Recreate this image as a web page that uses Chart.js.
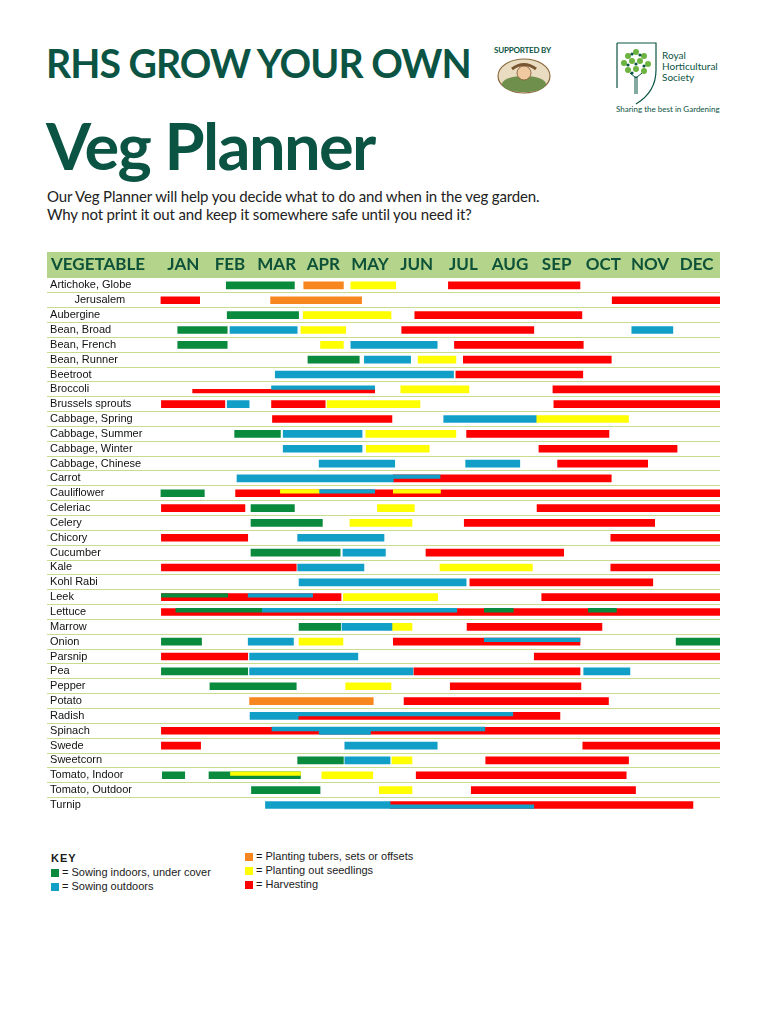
<!DOCTYPE html>
<html lang="en">
<head>
<meta charset="utf-8">
<title>RHS Grow Your Own - Veg Planner</title>
<script src="https://cdn.jsdelivr.net/npm/chart.js@4.4.1/dist/chart.umd.min.js"></script>
<style>
  html, body { margin: 0; padding: 0; background: #fff; }
  body { width: 768px; height: 1024px; position: relative; overflow: hidden; font-family: 'Lato', sans-serif; }
  .brand { position: absolute; left: 46px; top: 42px; font: 700 41px/1 'Lato', sans-serif; letter-spacing: -1px; color: #0b5443; white-space: nowrap; transform: scaleX(0.955); transform-origin: left top; }
  .title { position: absolute; left: 46px; top: 113px; font: 700 65px/1 'Lato', sans-serif; letter-spacing: -1.6px; color: #0b5443; white-space: nowrap; }
  .intro { position: absolute; left: 47px; top: 187px; font: 400 15px/18px 'Lato', sans-serif; letter-spacing: -0.15px; color: #222; white-space: nowrap; }
  .supported { position: absolute; left: 494px; top: 46px; font: 700 8px/1 'Lato', sans-serif; color: #0b5443; letter-spacing: -0.2px; }
  .sponsor { position: absolute; left: 496px; top: 58px; }
  .rhs-logo { position: absolute; left: 614px; top: 42px; }
  .rhs-name { position: absolute; left: 662px; top: 50px; font: 400 10px/11px 'Lato', sans-serif; color: #0b5443; }
  .rhs-tag { position: absolute; left: 616px; top: 105px; font: 400 8px/1 'Lato', sans-serif; color: #0b5443; white-space: nowrap; }
  #chart-wrap { position: absolute; left: 47px; top: 252px; width: 673px; height: 570px; }
  .key { position: absolute; font: 400 11px/14px 'Liberation Sans', sans-serif; color: #1a1a1a; white-space: nowrap; }
  .key-title { font-weight: 700; letter-spacing: 1px; }
  .swatch { display: inline-block; width: 8px; height: 8px; margin-right: 3px; vertical-align: -0.5px; }
</style>
</head>
<body>

<div class="brand">RHS GROW YOUR OWN</div>
<div class="title">Veg Planner</div>
<div class="intro">Our Veg Planner will help you decide what to do and when in the veg garden.<br>Why not print it out and keep it somewhere safe until you need it?</div>

<div class="supported">SUPPORTED BY</div>
<svg class="sponsor" width="56" height="36" viewBox="0 0 56 36">
  <ellipse cx="28" cy="18" rx="26" ry="17" fill="#e9dcc0" stroke="#8b6a3e" stroke-width="1.2"/>
  <ellipse cx="28" cy="26" rx="22" ry="8" fill="#6f8f4c"/>
  <circle cx="28" cy="15" r="7" fill="#f1c9a0" stroke="#7a5532" stroke-width="0.8"/>
  <path d="M16 11 Q28 2 40 11" fill="none" stroke="#7a5532" stroke-width="3"/>
</svg>

<svg class="rhs-logo" width="46" height="64" viewBox="0 0 46 64">
  <path d="M3 1 V46 M3 1 H42 V28 Q42 50 22 62" fill="none" stroke="#0b5443" stroke-width="1.2"/>
  <g fill="#6cb33f">
    <circle cx="14" cy="14" r="3"/><circle cx="22" cy="10" r="3"/><circle cx="30" cy="14" r="3"/>
    <circle cx="10" cy="21" r="3"/><circle cx="18" cy="19" r="3"/><circle cx="26" cy="19" r="3"/><circle cx="34" cy="22" r="3"/>
    <circle cx="14" cy="28" r="3"/><circle cx="22" cy="27" r="3"/><circle cx="30" cy="29" r="3"/>
  </g>
  <g fill="#0b5443">
    <circle cx="18" cy="12" r="1.6"/><circle cx="26" cy="13" r="1.6"/><circle cx="14" cy="23" r="1.6"/>
    <circle cx="30" cy="24" r="1.6"/><circle cx="22" cy="22" r="1.6"/><circle cx="18" cy="31" r="1.6"/>
  </g>
  <path d="M21 34 V52 M23 34 V52 M22 36 L16 31 M22 36 L28 31" stroke="#0b5443" stroke-width="1" fill="none"/>
</svg>
<div class="rhs-name">Royal<br>Horticultural<br>Society</div>
<div class="rhs-tag">Sharing the best in Gardening</div>

<div id="chart-wrap"><canvas id="vegChart"></canvas></div>

<div class="key" style="left:51px; top:851px;">
  <div class="key-title">KEY</div>
  <div><span class="swatch" style="background:#0a8a3c"></span>= Sowing indoors, under cover</div>
  <div><span class="swatch" style="background:#119fc8"></span>= Sowing outdoors</div>
</div>
<div class="key" style="left:245px; top:849px;">
  <div><span class="swatch" style="background:#f7861e"></span>= Planting tubers, sets or offsets</div>
  <div><span class="swatch" style="background:#ffff00"></span>= Planting out seedlings</div>
  <div><span class="swatch" style="background:#ff0000"></span>= Harvesting</div>
</div>

<script>
// --- Chart data ---
const months = ['JAN', 'FEB', 'MAR', 'APR', 'MAY', 'JUN', 'JUL', 'AUG', 'SEP', 'OCT', 'NOV', 'DEC'];

const vegetables = [
  'Artichoke, Globe', 'Jerusalem', 'Aubergine', 'Bean, Broad', 'Bean, French', 'Bean, Runner',
  'Beetroot', 'Broccoli', 'Brussels sprouts', 'Cabbage, Spring', 'Cabbage, Summer', 'Cabbage, Winter',
  'Cabbage, Chinese', 'Carrot', 'Cauliflower', 'Celeriac', 'Celery', 'Chicory',
  'Cucumber', 'Kale', 'Kohl Rabi', 'Leek', 'Lettuce', 'Marrow',
  'Onion', 'Parsnip', 'Pea', 'Pepper', 'Potato', 'Radish',
  'Spinach', 'Swede', 'Sweetcorn', 'Tomato, Indoor', 'Tomato, Outdoor', 'Turnip'
];

// [vegetable, from month, to month, strip]  (months run 0 = start of Jan .. 12 = end of Dec)
// strip 'top' / 'bottom' = half-height bar laid over another period in the same row
const sowingIndoors = [
  ['Artichoke, Globe', 1.42, 2.88],
  ['Aubergine', 1.44, 2.97],
  ['Bean, Broad', 0.38, 1.44],
  ['Bean, French', 0.38, 1.44],
  ['Bean, Runner', 3.17, 4.27],
  ['Cabbage, Summer', 1.6, 2.58],
  ['Cauliflower', 0.02, 0.95],
  ['Celeriac', 1.95, 2.88],
  ['Celery', 1.95, 3.48],
  ['Cucumber', 1.95, 3.86],
  ['Leek', 0.03, 1.45, 'top'],
  ['Lettuce', 0.34, 2.18, 'top'],
  ['Lettuce', 6.95, 7.57, 'top'],
  ['Lettuce', 9.18, 9.78, 'top'],
  ['Marrow', 2.98, 3.87],
  ['Onion', 0.03, 0.89],
  ['Onion', 11.06, 12],
  ['Pea', 0.03, 1.88],
  ['Pepper', 1.07, 2.92],
  ['Sweetcorn', 2.95, 3.93],
  ['Tomato, Indoor', 0.05, 0.53],
  ['Tomato, Indoor', 1.05, 3.01],
  ['Tomato, Outdoor', 1.96, 3.43]
];

const sowingOutdoors = [
  ['Bean, Broad', 1.5, 2.94],
  ['Bean, Broad', 10.11, 10.99],
  ['Bean, French', 4.09, 5.94],
  ['Bean, Runner', 4.38, 5.37],
  ['Beetroot', 2.47, 6.29],
  ['Broccoli', 2.39, 4.6, 'top'],
  ['Brussels sprouts', 1.44, 1.91],
  ['Cabbage, Spring', 6.08, 8.06],
  ['Cabbage, Summer', 2.64, 4.33],
  ['Cabbage, Winter', 2.64, 4.33],
  ['Cabbage, Chinese', 3.41, 5.03],
  ['Cabbage, Chinese', 6.55, 7.71],
  ['Carrot', 1.65, 5.0],
  ['Carrot', 5.0, 6.0, 'top'],
  ['Cauliflower', 3.42, 4.6, 'top'],
  ['Chicory', 2.95, 4.8],
  ['Cucumber', 3.92, 4.83],
  ['Kale', 2.95, 4.37],
  ['Kohl Rabi', 2.98, 6.56],
  ['Leek', 1.89, 3.27, 'top'],
  ['Lettuce', 2.18, 6.36, 'top'],
  ['Marrow', 3.9, 4.97],
  ['Onion', 1.89, 2.86],
  ['Onion', 6.95, 9.0, 'top'],
  ['Parsnip', 1.92, 4.24],
  ['Pea', 1.92, 5.42],
  ['Pea', 9.08, 10.07],
  ['Radish', 1.93, 7.56, 'top'],
  ['Radish', 1.93, 2.96, 'bottom'],
  ['Spinach', 2.4, 6.96, 'top'],
  ['Spinach', 3.41, 4.51, 'bottom'],
  ['Swede', 3.96, 5.94],
  ['Sweetcorn', 3.96, 4.93],
  ['Turnip', 2.26, 4.93],
  ['Turnip', 4.93, 8.01, 'bottom']
];

const plantingTubers = [
  ['Artichoke, Globe', 3.08, 3.93],
  ['Jerusalem', 2.37, 4.32],
  ['Potato', 1.92, 4.57]
];

const plantingSeedlings = [
  ['Artichoke, Globe', 4.09, 5.05],
  ['Aubergine', 3.07, 4.95],
  ['Bean, Broad', 3.02, 3.98],
  ['Bean, French', 3.44, 3.93],
  ['Bean, Runner', 5.53, 6.34],
  ['Broccoli', 5.16, 6.62],
  ['Brussels sprouts', 3.58, 5.57],
  ['Cabbage, Spring', 8.06, 10.04],
  ['Cabbage, Summer', 4.41, 6.34],
  ['Cabbage, Winter', 4.42, 5.77],
  ['Cauliflower', 2.58, 3.42, 'top'],
  ['Cauliflower', 5.0, 6.01, 'top'],
  ['Celeriac', 4.66, 5.45],
  ['Celery', 4.07, 5.4],
  ['Kale', 6.0, 7.98],
  ['Leek', 3.93, 5.95],
  ['Marrow', 4.97, 5.4],
  ['Onion', 2.98, 3.92],
  ['Pepper', 3.98, 4.95],
  ['Sweetcorn', 4.97, 5.4],
  ['Tomato, Indoor', 1.51, 3.01, 'top'],
  ['Tomato, Indoor', 3.47, 4.56],
  ['Tomato, Outdoor', 4.7, 5.4]
];

const harvesting = [
  ['Artichoke, Globe', 6.18, 9.0],
  ['Jerusalem', 0.02, 0.85],
  ['Jerusalem', 9.69, 12],
  ['Aubergine', 5.46, 9.04],
  ['Bean, Broad', 5.18, 8.01],
  ['Bean, French', 6.31, 9.07],
  ['Bean, Runner', 6.5, 9.67],
  ['Beetroot', 6.34, 9.06],
  ['Broccoli', 0.7, 4.6, 'bottom'],
  ['Broccoli', 8.42, 12],
  ['Brussels sprouts', 0.03, 1.39],
  ['Brussels sprouts', 2.39, 3.54],
  ['Brussels sprouts', 8.44, 12],
  ['Cabbage, Spring', 2.41, 4.97],
  ['Cabbage, Summer', 6.57, 9.62],
  ['Cabbage, Winter', 8.12, 11.08],
  ['Cabbage, Chinese', 8.52, 10.45],
  ['Carrot', 5.0, 9.67],
  ['Cauliflower', 1.62, 12],
  ['Celeriac', 0.03, 1.82],
  ['Celeriac', 8.08, 12],
  ['Celery', 6.52, 10.6],
  ['Chicory', 0.03, 1.88],
  ['Chicory', 9.66, 12],
  ['Cucumber', 5.7, 8.65],
  ['Kale', 0.03, 2.92],
  ['Kale', 9.66, 12],
  ['Kohl Rabi', 6.64, 10.56],
  ['Leek', 0.03, 3.88],
  ['Leek', 8.18, 12],
  ['Lettuce', 0.03, 12],
  ['Marrow', 6.58, 9.47],
  ['Onion', 5.0, 9.0],
  ['Parsnip', 0.03, 1.88],
  ['Parsnip', 8.02, 12],
  ['Pea', 5.44, 9.0],
  ['Pepper', 6.22, 9.02],
  ['Potato', 5.23, 9.61],
  ['Radish', 2.96, 8.57],
  ['Spinach', 0.03, 12],
  ['Swede', 0.03, 0.87],
  ['Swede', 9.06, 12],
  ['Sweetcorn', 6.98, 10.04],
  ['Tomato, Indoor', 5.49, 9.99],
  ['Tomato, Outdoor', 6.67, 10.19],
  ['Turnip', 4.93, 11.42]
];

// --- Styles ---
const HEAD_GREEN = '#0d5238';
const BAND_GREEN = '#b4d38b';
const GRID_GREEN = '#c9dc8c';
const BAR_THICKNESS = 7;
const STRIP_THICKNESS = 3.6;
const STRIP_SHIFT = { top: -0.118, bottom: 0.118 };   // in rows
const INDENTED = ['Jerusalem'];

const phases = [
  { label: 'Sowing indoors, under cover', rows: sowingIndoors, color: '#0a8a3c' },
  { label: 'Sowing outdoors', rows: sowingOutdoors, color: '#119fc8' },
  { label: 'Planting tubers, sets or offsets', rows: plantingTubers, color: '#f7861e' },
  { label: 'Planting out seedlings', rows: plantingSeedlings, color: '#ffff00' },
  { label: 'Harvesting', rows: harvesting, color: '#ff0000' }
];

const toPoint = ([veg, from, to, strip]) => ({
  y: vegetables.indexOf(veg) + (STRIP_SHIFT[strip] || 0),
  x: [from, to]
});

// full bars sit underneath (order 2), the half-height strips go on top (order 1)
const datasets = [];
phases.forEach(p => {
  datasets.push({
    label: p.label,
    data: p.rows.filter(r => !r[3]).map(toPoint),
    backgroundColor: p.color,
    barThickness: BAR_THICKNESS,
    order: 2
  });
  datasets.push({
    label: p.label + ' (overlap)',
    data: p.rows.filter(r => r[3]).map(toPoint),
    backgroundColor: p.color,
    barThickness: STRIP_THICKNESS,
    order: 1
  });
});

// --- Header band behind the month labels ---
const headerBand = {
  id: 'headerBand',
  beforeDraw(chart) {
    const { ctx, chartArea, scales: { x } } = chart;
    ctx.save();
    ctx.fillStyle = BAND_GREEN;
    ctx.fillRect(0, x.top, chartArea.right, x.bottom - x.top);
    ctx.fillStyle = HEAD_GREEN;
    ctx.font = 'bold 17px Lato';
    ctx.textBaseline = 'middle';
    ctx.fillText('VEGETABLE', 4, (x.top + x.bottom) / 2);
    ctx.restore();
  }
};

document.addEventListener('DOMContentLoaded', () => {
  Chart.defaults.font.family = "'Liberation Sans', Arial, sans-serif";

  const canvas = document.getElementById('vegChart');
  new Chart(canvas, {
    type: 'bar',
    data: { datasets },
    plugins: [headerBand],
    options: {
      indexAxis: 'y',
      responsive: true,
      maintainAspectRatio: false,
      animation: false,
      layout: { padding: 0 },
      datasets: {
        bar: { grouped: false, borderWidth: 0, borderSkipped: false }
      },
      plugins: {
        legend: { display: false },
        tooltip: { enabled: false }
      },
      scales: {
        x: {
          type: 'linear',
          position: 'top',
          min: 0,
          max: 12,
          afterBuildTicks: scale => { scale.ticks = months.map((m, i) => ({ value: i + 0.5 })); },
          afterFit: scale => { scale.height = 26; },
          grid: { display: false, drawTicks: false },
          border: { display: false },
          ticks: {
            autoSkip: false,
            maxRotation: 0,
            padding: 3,
            color: HEAD_GREEN,
            font: { family: 'Lato', size: 17, weight: 'bold' },
            callback: (value, i) => months[i]
          }
        },
        y: {
          type: 'linear',
          reverse: true,
          offset: false,
          min: -0.5,
          max: vegetables.length - 0.5,
          afterBuildTicks: scale => { scale.ticks = vegetables.map((v, i) => ({ value: i })); },
          afterFit: scale => { scale.width = 113; },
          border: { display: false },
          grid: {
            offset: true,
            drawTicks: true,
            tickLength: 113,
            lineWidth: 1,
            color: ctx => (ctx.index === undefined || ctx.index === 0) ? 'rgba(0,0,0,0)' : GRID_GREEN
          },
          ticks: {
            autoSkip: false,
            crossAlign: 'far',
            color: '#111',
            font: { size: 11 },
            callback: value => {
              const name = vegetables[value];
              return INDENTED.includes(name) ? '         ' + name : ' ' + name;
            }
          }
        }
      }
    }
  });
});
</script>
</body>
</html>
